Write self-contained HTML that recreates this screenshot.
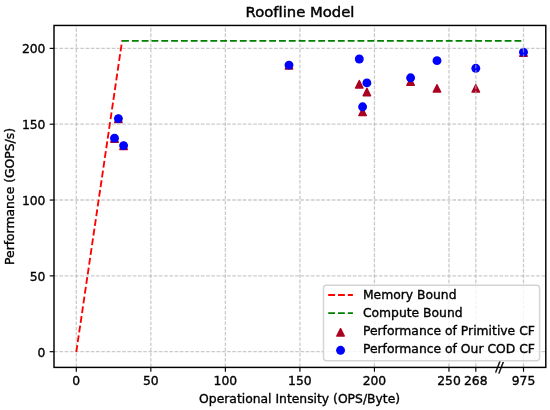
<!DOCTYPE html>
<html><head><meta charset="utf-8"><title>Roofline Model</title>
<style>html,body{margin:0;padding:0;background:#fff;width:550px;height:410px;overflow:hidden}svg{display:block}text{font-variant-ligatures:none;font-feature-settings:'liga' 0,'clig' 0;font-kerning:normal}</style>
</head><body>
<svg width="550" height="410" viewBox="0 0 550 410"><rect x="0" y="0" width="550" height="410" fill="#fff"/>
<polygon points="118.4,115.14 114.7,122.55 122.11,122.55" fill="#ab0020" stroke="#ab0020" stroke-width="1.45" stroke-linejoin="round"/>
<polygon points="114.5,134.74 110.8,142.16 118.2,142.16" fill="#ab0020" stroke="#ab0020" stroke-width="1.45" stroke-linejoin="round"/>
<polygon points="123.6,142.14 119.89,149.56 127.3,149.56" fill="#ab0020" stroke="#ab0020" stroke-width="1.45" stroke-linejoin="round"/>
<polygon points="289,61.7 285.3,69.11 292.7,69.11" fill="#ab0020" stroke="#ab0020" stroke-width="1.45" stroke-linejoin="round"/>
<polygon points="359.3,80.59 355.6,88 363,88" fill="#ab0020" stroke="#ab0020" stroke-width="1.45" stroke-linejoin="round"/>
<polygon points="366.9,88.3 363.19,95.7 370.6,95.7" fill="#ab0020" stroke="#ab0020" stroke-width="1.45" stroke-linejoin="round"/>
<polygon points="362.6,108.2 358.9,115.61 366.31,115.61" fill="#ab0020" stroke="#ab0020" stroke-width="1.45" stroke-linejoin="round"/>
<polygon points="410.6,77.89 406.9,85.3 414.31,85.3" fill="#ab0020" stroke="#ab0020" stroke-width="1.45" stroke-linejoin="round"/>
<polygon points="437,84.7 433.3,92.11 440.7,92.11" fill="#ab0020" stroke="#ab0020" stroke-width="1.45" stroke-linejoin="round"/>
<polygon points="475.8,84.7 472.1,92.11 479.5,92.11" fill="#ab0020" stroke="#ab0020" stroke-width="1.45" stroke-linejoin="round"/>
<polygon points="523.5,48.9 519.79,56.3 527.21,56.3" fill="#ab0020" stroke="#ab0020" stroke-width="1.45" stroke-linejoin="round"/>
<circle cx="118.4" cy="118.6" r="4.45" fill="#0000ff"/>
<circle cx="114.5" cy="138.2" r="4.45" fill="#0000ff"/>
<circle cx="123.6" cy="145.6" r="4.45" fill="#0000ff"/>
<circle cx="289" cy="65.1" r="4.45" fill="#0000ff"/>
<circle cx="359.3" cy="59" r="4.45" fill="#0000ff"/>
<circle cx="366.9" cy="82.9" r="4.45" fill="#0000ff"/>
<circle cx="362.6" cy="106.8" r="4.45" fill="#0000ff"/>
<circle cx="410.6" cy="77.8" r="4.45" fill="#0000ff"/>
<circle cx="437" cy="60.65" r="4.45" fill="#0000ff"/>
<circle cx="475.8" cy="68.3" r="4.45" fill="#0000ff"/>
<circle cx="523.5" cy="52.2" r="4.45" fill="#0000ff"/>
<g stroke="#b0b0b0" stroke-opacity="0.66" stroke-width="1.3" stroke-dasharray="3.66 1.58"><line x1="76.3" y1="367" x2="76.3" y2="25"/><line x1="150.83" y1="367" x2="150.83" y2="25"/><line x1="225.37" y1="367" x2="225.37" y2="25"/><line x1="299.9" y1="367" x2="299.9" y2="25"/><line x1="374.44" y1="367" x2="374.44" y2="25"/><line x1="448.97" y1="367" x2="448.97" y2="25"/><line x1="475.81" y1="367" x2="475.81" y2="25"/><line x1="523.51" y1="367" x2="523.51" y2="25"/><line x1="54.1" y1="351.65" x2="546" y2="351.65"/><line x1="54.1" y1="275.82" x2="546" y2="275.82"/><line x1="54.1" y1="199.99" x2="546" y2="199.99"/><line x1="54.1" y1="124.16" x2="546" y2="124.16"/><line x1="54.1" y1="48.32" x2="546" y2="48.32"/></g>
<line x1="76.3" y1="351.85" x2="122.15" y2="40.35" stroke="#ff0000" stroke-width="1.85" stroke-dasharray="6.84 2.96"/>
<line x1="122.06" y1="40.94" x2="523.51" y2="40.94" stroke="#008000" stroke-width="1.85" stroke-dasharray="6.85 2.96"/>
<rect x="54" y="25.45" width="491.8" height="341.95" fill="none" stroke="#000" stroke-width="1.45" stroke-linejoin="miter"/>
<g stroke="#000" stroke-width="1.15"><line x1="76.3" y1="367.4" x2="76.3" y2="371.72"/><line x1="150.83" y1="367.4" x2="150.83" y2="371.72"/><line x1="225.37" y1="367.4" x2="225.37" y2="371.72"/><line x1="299.9" y1="367.4" x2="299.9" y2="371.72"/><line x1="374.44" y1="367.4" x2="374.44" y2="371.72"/><line x1="448.97" y1="367.4" x2="448.97" y2="371.72"/><line x1="475.81" y1="367.4" x2="475.81" y2="371.72"/><line x1="523.51" y1="367.4" x2="523.51" y2="371.72"/><line x1="49.68" y1="351.7" x2="54" y2="351.7"/><line x1="49.68" y1="275.87" x2="54" y2="275.87"/><line x1="49.68" y1="200.04" x2="54" y2="200.04"/><line x1="49.68" y1="124.21" x2="54" y2="124.21"/><line x1="49.68" y1="48.37" x2="54" y2="48.37"/></g>
<g font-family="'DejaVu Sans', 'Liberation Sans', sans-serif" font-size="12.35" fill="#000" stroke="#000" stroke-width="0.35"><text x="76.3" y="385.45" text-anchor="middle">0</text><text x="150.83" y="385.45" text-anchor="middle">50</text><text x="225.37" y="385.45" text-anchor="middle">100</text><text x="299.9" y="385.45" text-anchor="middle">150</text><text x="374.44" y="385.45" text-anchor="middle">200</text><text x="448.97" y="385.45" text-anchor="middle">250</text><text x="475.81" y="385.45" text-anchor="middle">268</text><text x="523.51" y="385.45" text-anchor="middle">975</text><text x="45.45" y="356.85" text-anchor="end">0</text><text x="45.45" y="280.57" text-anchor="end">50</text><text x="45.45" y="204.74" text-anchor="end">100</text><text x="45.45" y="128.91" text-anchor="end">150</text><text x="45.45" y="53.07" text-anchor="end">200</text><text x="299.6" y="402.5" text-anchor="middle">Operational Intensity (OPS/Byte)</text><text transform="translate(13.9 196.5) rotate(-90)" x="0" y="0" text-anchor="middle">Performance (GOPS/s)</text></g>
<text x="300" y="17.3" text-anchor="middle" font-family="'DejaVu Sans', 'Liberation Sans', sans-serif" font-size="14.82" fill="#000" stroke="#000" stroke-width="0.45">Roofline Model</text>
<text transform="translate(497.85 366.9) skewX(-4.3)" x="-2.29" y="4.33" font-family="'DejaVu Sans', sans-serif" font-size="13.6" fill="#000" stroke="#000" stroke-width="0.3">/<tspan dx="-1.18" dy="1">/</tspan></text>
<rect x="323.5" y="285.2" width="216.1" height="75.6" rx="3" ry="3" fill="#fff" fill-opacity="0.8" stroke="#d4d4d4" stroke-width="1.45"/>
<line x1="328.2" y1="294.95" x2="352.9" y2="294.95" stroke="#ff0000" stroke-width="1.85" stroke-dasharray="6.85 2.96"/>
<line x1="328.2" y1="313.1" x2="352.9" y2="313.1" stroke="#008000" stroke-width="1.85" stroke-dasharray="6.85 2.96"/>
<polygon points="340.55,328.69 336.84,336.1 344.25,336.1" fill="#ab0020" stroke="#ab0020" stroke-width="1.45" stroke-linejoin="round"/>
<circle cx="340.55" cy="350.3" r="4.45" fill="#0000ff"/>
<g font-family="'DejaVu Sans', 'Liberation Sans', sans-serif" font-size="12.35" fill="#000" stroke="#000" stroke-width="0.35"><text x="362.9" y="299.3">Memory Bound</text><text x="362.9" y="317.2">Compute Bound</text><text x="362.9" y="335">Performance of Primitive CF</text><text x="362.9" y="353">Performance of Our COD CF</text></g></svg>
</body></html>
